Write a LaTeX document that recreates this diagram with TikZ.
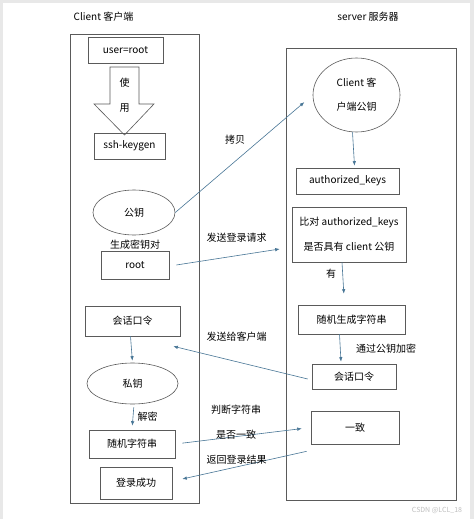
\documentclass[tikz,border=0pt]{standalone}
\usepackage{fontspec}
\setmainfont{Noto Sans CJK SC}
\usetikzlibrary{arrows.meta,shapes.geometric}
\definecolor{linkblue}{RGB}{72,118,150}
\definecolor{boxgray}{RGB}{90,90,90}
\begin{document}
\begin{tikzpicture}[x=1pt,y=-1pt,font=\fontsize{10}{12}\selectfont,
	box/.style={draw=boxgray,line width=0.6pt,inner sep=0pt},
	oval/.style={box,ellipse},
	link/.style={draw=linkblue,line width=0.6pt,-{Latex[length=4.5pt,width=3.5pt]}},
	lbl/.style={inner sep=0pt}]
	\useasboundingbox (0,0) rectangle (474,519);
	\fill[black!9] (0,0) rectangle (474,519);
	\fill[white] (3,3) rectangle (470,519);
	% client side
	\node[lbl] (ctitle) at (103.5,17) {Client 客户端};
	\draw[boxgray,line width=0.8pt] (70,34) rectangle (199,503);
	\node[box,minimum width=75pt,minimum height=26pt] (user) at (125.5,50) {user=root};
	\draw[boxgray,line width=0.6pt] (110,67) -- (139,67) -- (139,104) -- (154,104) -- (124.5,135) -- (94,104) -- (110,104) -- cycle;
	\node[lbl] (use1) at (124.5,83) {使};
	\node[lbl] (use2) at (124.5,108) {用};
	\node[box,minimum width=71pt,minimum height=26pt] (keygen) at (129.5,146) {ssh-keygen};
	\node[oval,minimum width=82pt,minimum height=45pt] (pubkey) at (134,212.5) {公钥};
	\node[lbl] (pair) at (135,245) {生成密钥对};
	\node[box,minimum width=68pt,minimum height=28pt] (root) at (135,265) {root};
	\node[box,minimum width=95pt,minimum height=30pt] (csess) at (132.5,321) {会话口令};
	\node[oval,minimum width=91pt,minimum height=41pt] (priv) at (132.5,383.5) {私钥};
	\node[box,minimum width=86pt,minimum height=28pt] (crand) at (132,444) {随机字符串};
	\node[box,minimum width=72pt,minimum height=32pt] (ok) at (136,483) {登录成功};
	% server side
	\node[lbl] (stitle) at (368,17) {server 服务器};
	\draw[boxgray,line width=0.8pt] (286,48) rectangle (456,500);
	\node[oval,minimum width=87pt,minimum height=74pt,align=center,font=\fontsize{10}{24}\selectfont] (cpk) at (356.5,95) {Client 客\\户端公钥};
	\node[box,minimum width=103pt,minimum height=26pt] (akeys) at (347.5,181) {authorized\_keys};
	\node[box,minimum width=114pt,minimum height=55pt,align=center,font=\fontsize{10}{25}\selectfont] (cmp) at (349,234.5) {比对 authorized\_keys\\是否具有 client 公钥};
	\node[box,minimum width=107pt,minimum height=29pt] (srand) at (351.5,319.5) {随机生成字符串};
	\node[box,minimum width=84pt,minimum height=25pt] (ssess) at (354,376.5) {会话口令};
	\node[box,minimum width=88pt,minimum height=33pt] (same) at (355,427.5) {一致};
	\node[lbl,text=black!25,font=\fontsize{7}{8}\selectfont] (mark) at (437,510) {CSDN @LCL\_18};
	% arrows inside
	\draw[link] ([xshift=-4pt]cpk.south) -- ([xshift=7pt,yshift=2pt]akeys.north);
	\draw[link,shorten >=11pt] ([xshift=-7pt]cmp.south) -- ([xshift=-7pt]srand.north);
	\node[lbl] (has) at (331,274) {有};
	\draw[link] ([xshift=-12pt]srand.south) -- ([xshift=-13pt,yshift=2pt]ssess.north);
	\node[lbl] (enc) at (386,349) {通过公钥加密};
	\draw[link,shorten >=2pt] ([xshift=-2pt]csess.south) -- (priv.north);
	\draw[link,shorten <=3pt,shorten >=4pt] ([xshift=1.5pt]priv.south) -- (crand.north);
	\node[lbl] (dec) at (147.5,417) {解密};
	% arrows across
	\draw[link,shorten >=11pt] (pubkey.east) -- (cpk.west);
	\node[lbl] (copy) at (235,140) {拷贝};
	\draw[link] ([xshift=7pt]root.east) -- ([xshift=-12pt,yshift=-14.5pt]cmp.west);
	\node[lbl] (req) at (236.5,238) {发送登录请求};
	\draw[link] ([xshift=-4pt,yshift=-2.5pt]ssess.west) -- ([xshift=-7pt,yshift=-10pt]csess.south east);
	\node[lbl] (send) at (236.5,337) {发送给客户端};
	\draw[link,shorten <=7pt,shorten >=9pt] (crand.east) -- (same.west);
	\node[lbl] (judge1) at (236,410) {判断字符串};
	\node[lbl] (judge2) at (236,435) {是否一致};
	\draw[link] ([xshift=-4pt,yshift=-7pt]same.south west) -- ([xshift=10pt,yshift=4pt]ok.east);
	\node[lbl] (back) at (236.5,460) {返回登录结果};
\end{tikzpicture}
\end{document}
